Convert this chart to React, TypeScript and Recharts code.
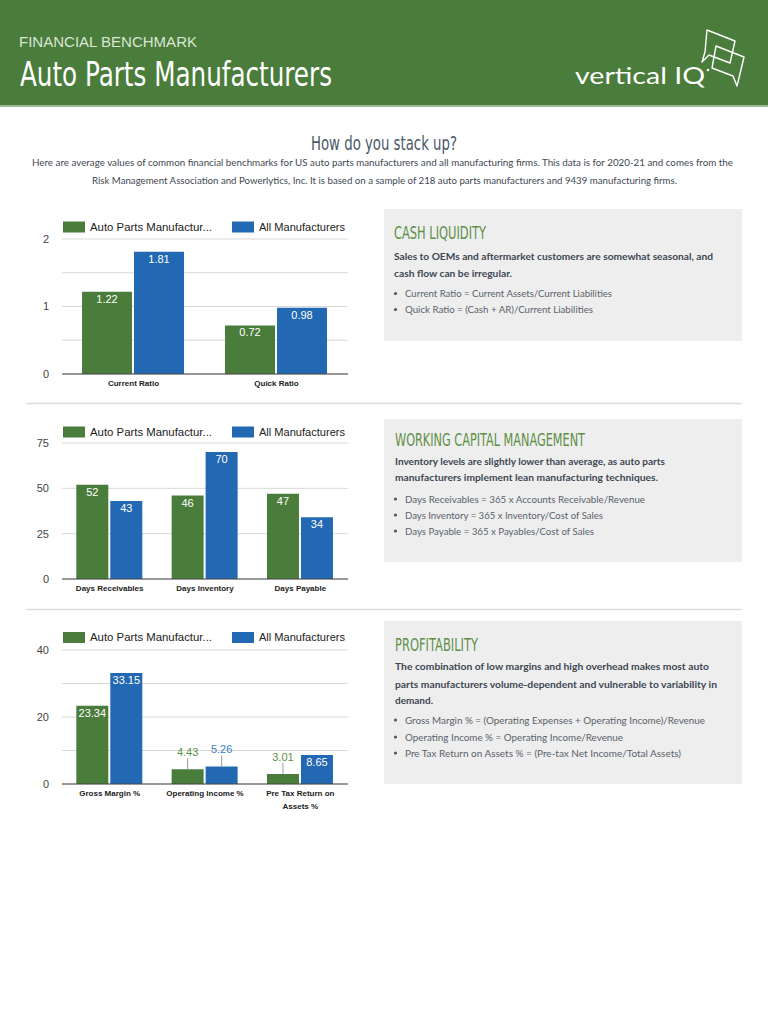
import React from "react";
import { BarChart, Bar, XAxis, YAxis, CartesianGrid, LabelList } from "recharts";

// ---------- data ----------
const seriesNames = ["Auto Parts Manufactur...", "All Manufacturers"];

const liquidityCategories = ["Current Ratio", "Quick Ratio"];
const liquidityAuto = [1.22, 0.72];
const liquidityAll = [1.81, 0.98];
const liquidityGridTicks = [0, 0.5, 1, 1.5, 2];
const liquidityLabelTicks = [0, 1, 2];

const wcCategories = ["Days Receivables", "Days Inventory", "Days Payable"];
const wcAuto = [52, 46, 47];
const wcAll = [43, 70, 34];
const wcGridTicks = [0, 25, 50, 75];
const wcLabelTicks = [0, 25, 50, 75];

const profCategories = ["Gross Margin %", "Operating Income %", "Pre Tax Return on Assets %"];
const profAuto = [23.34, 4.43, 3.01];
const profAll = [33.15, 5.26, 8.65];
const profGridTicks = [0, 10, 20, 30, 40];
const profLabelTicks = [0, 20, 40];

// ---------- styles ----------
const GREEN = "#4a7d3b";
const BLUE = "#2368b2";
const GREEN_OUT = "#5c9146";
const BLUE_OUT = "#3a7ec6";
const NARROW = '"Liberation Sans Narrow", "DejaVu Sans Condensed", Roboto, sans-serif';
const BODY = 'Lato, "Noto Sans", sans-serif';
const ARIAL = '"Liberation Sans", Arial, sans-serif';

type TProps = {
  x: number; y: number; w?: number; size: number; fill: string;
  weight?: number | string; family?: string; anchor?: "start" | "middle" | "end"; children: React.ReactNode;
};
const T = ({ x, y, w, size, fill, weight = 400, family = BODY, anchor = "start", children }: TProps) => (
  <text
    x={x}
    y={y}
    fontSize={size}
    fill={fill}
    fontWeight={weight}
    fontFamily={family}
    textAnchor={anchor}
    textLength={w}
    lengthAdjust={w ? "spacingAndGlyphs" : undefined}
  >
    {children}
  </text>
);

function wrapLabel(text: string, maxChars = 18): string[] {
  if (text.length <= maxChars) return [text];
  const words = text.split(" ");
  const lines: string[] = [];
  let cur = "";
  for (const w of words) {
    const next = cur ? cur + " " + w : w;
    if (next.length > maxChars && cur) {
      lines.push(cur);
      cur = w;
    } else cur = next;
  }
  if (cur) lines.push(cur);
  return lines;
}

const makeLabel = (outColor: string) => (props: any) => {
  const { x, y, width, height, value } = props;
  const cx = Number(x) + Number(width) / 2;
  const top = Number(y);
  if (Number(height) >= 24) {
    return (
      <text x={cx} y={top + 11} fill="#ffffff" fontSize={11} textAnchor="middle" fontFamily={ARIAL}>
        {value}
      </text>
    );
  }
  return (
    <g>
      <line x1={cx} x2={cx} y1={top} y2={top - 11} stroke="#9a9a9a" strokeWidth={1} />
      <text x={cx} y={top - 13} fill={outColor} fontSize={11} textAnchor="middle" fontFamily={ARIAL}>
        {value}
      </text>
    </g>
  );
};

type ChartProps = {
  left: number; top: number; height: number; marginTop: number; xAxisHeight: number;
  categories: string[]; autoValues: number[]; allValues: number[];
  domainMax: number; gridTicks: number[]; labelTicks: number[]; gap: string;
};

function BenchmarkChart(p: ChartProps) {
  const data = p.categories.map((c, i) => ({ name: c, auto: p.autoValues[i], all: p.allValues[i] }));
  const YTick = (props: any) => {
    const { x, y, payload } = props;
    if (!p.labelTicks.includes(payload.value)) return <g />;
    return (
      <text x={x} y={y} dy="0.36em" textAnchor="end" fontSize={11} fill="#444" fontFamily={ARIAL}>
        {payload.value}
      </text>
    );
  };
  const XTick = (props: any) => {
    const { x, y, payload } = props;
    const lines = wrapLabel(String(payload.value));
    return (
      <text x={x} y={y + 4} textAnchor="middle" fontSize={8} fontWeight="bold" fill="#222" fontFamily={ARIAL}>
        {lines.map((l, i) => (
          <tspan key={i} x={x} dy={i === 0 ? 0 : 13}>
            {l}
          </tspan>
        ))}
      </text>
    );
  };
  return (
    <div style={{ position: "absolute", left: p.left, top: p.top }}>
      <BarChart
        width={340}
        height={p.height}
        data={data}
        margin={{ top: p.marginTop, right: 12, bottom: 6, left: 0 }}
        barCategoryGap={p.gap}
        barGap={2}
      >
        <CartesianGrid vertical={false} stroke="#d9d9d9" />
        <XAxis
          dataKey="name"
          tickLine={false}
          axisLine={{ stroke: "#444" }}
          height={p.xAxisHeight}
          tick={<XTick />}
          interval={0}
        />
        <YAxis
          width={42}
          domain={[0, p.domainMax]}
          ticks={p.gridTicks}
          tickLine={false}
          axisLine={false}
          tickMargin={7}
          tick={<YTick />}
          interval={0}
        />
        <Bar dataKey="auto" fill={GREEN} isAnimationActive={false}>
          <LabelList dataKey="auto" content={makeLabel(GREEN_OUT)} />
        </Bar>
        <Bar dataKey="all" fill={BLUE} isAnimationActive={false}>
          <LabelList dataKey="all" content={makeLabel(BLUE_OUT)} />
        </Bar>
      </BarChart>
    </div>
  );
}

const Legend = ({ cy }: { cy: number }) => (
  <g>
    <rect x={63} y={cy - 5} width={22} height={11} fill={GREEN} />
    <T x={90} y={cy + 4} w={122} size={11} fill="#222" family={ARIAL}>{seriesNames[0]}</T>
    <rect x={232} y={cy - 5} width={22} height={11} fill={BLUE} />
    <T x={259} y={cy + 4} w={86} size={11} fill="#222" family={ARIAL}>{seriesNames[1]}</T>
  </g>
);

const HEAD = "#5d8f47";
const BOLD = "#3d4753";
const BUL = "#59626b";

const Bullet = ({ y, w, children }: { y: number; w: number; children: React.ReactNode }) => (
  <g>
    <circle cx={395.5} cy={y - 3.5} r={1.6} fill="#555" />
    <T x={405} y={y} w={w} size={9.5} fill={BUL}>{children}</T>
  </g>
);

export default function App() {
  return (
    <div style={{ position: "absolute", left: 0, top: 0, width: 768, height: 1024, background: "#fff", overflow: "hidden" }}>
      <svg width={768} height={1024} style={{ position: "absolute", left: 0, top: 0 }}>
        {/* header */}
        <rect x={0} y={0} width={768} height={106} fill="#4a7c3b" />
        <rect x={0} y={105} width={768} height={2} fill="#a3b89a" />
        <T x={19} y={47} w={178} size={14} fill="#dbe5d5" family={ARIAL}>FINANCIAL BENCHMARK</T>
        <T x={20} y={86} w={312} size={34} fill="#ffffff" family={NARROW}>Auto Parts Manufacturers</T>
        <T x={575} y={84} w={130} size={23} fill="#ffffff" family={BODY}>vertical IQ</T>
        <circle cx={708} cy={70} r={1.3} fill="#fff" />
        <g fill="none" stroke="#ffffff" strokeWidth={1.4} strokeLinejoin="round">
          <path d="M707,30 L735,41 L730,63 L709,55 L702,62 L705,52 Z" />
          <path d="M716,46 L744,57 L739,78 L737,86 L733,76 L712,68 Z" />
        </g>

        {/* intro */}
        <T x={384} y={150} w={146} size={20} fill="#4b5968" family={NARROW} anchor="middle">How do you stack up?</T>
        <T x={382.5} y={165.5} w={701} size={10} fill="#3e4852" anchor="middle">
          Here are average values of common financial benchmarks for US auto parts manufacturers and all manufacturing firms. This data is for 2020-21 and comes from the
        </T>
        <T x={384.5} y={183.5} w={585} size={10} fill="#3e4852" anchor="middle">
          Risk Management Association and Powerlytics, Inc. It is based on a sample of 218 auto parts manufacturers and 9439 manufacturing firms.
        </T>

        {/* separators */}
        <line x1={26} x2={742} y1={403.5} y2={403.5} stroke="#dddddd" strokeWidth={1.5} />
        <line x1={26} x2={742} y1={609.5} y2={609.5} stroke="#dddddd" strokeWidth={1.5} />

        {/* legends */}
        <Legend cy={226.5} />
        <Legend cy={431.5} />
        <Legend cy={637} />

        {/* panel 1 */}
        <rect x={384} y={209} width={358} height={132} fill="#eeeeee" />
        <T x={394} y={238.5} w={92} size={18} fill={HEAD} family={NARROW}>CASH LIQUIDITY</T>
        <T x={394} y={260} w={319} size={10} fill={BOLD} weight={700}>Sales to OEMs and aftermarket customers are somewhat seasonal, and</T>
        <T x={394} y={277} w={118} size={10} fill={BOLD} weight={700}>cash flow can be irregular.</T>
        <Bullet y={297} w={207}>Current Ratio = Current Assets/Current Liabilities</Bullet>
        <Bullet y={313} w={188}>Quick Ratio = (Cash + AR)/Current Liabilities</Bullet>

        {/* panel 2 */}
        <rect x={384} y={419} width={358} height={143} fill="#eeeeee" />
        <T x={395} y={445.5} w={190} size={18} fill={HEAD} family={NARROW}>WORKING CAPITAL MANAGEMENT</T>
        <T x={395} y={465} w={270} size={10} fill={BOLD} weight={700}>Inventory levels are slightly lower than average, as auto parts</T>
        <T x={395} y={481} w={263} size={10} fill={BOLD} weight={700}>manufacturers implement lean manufacturing techniques.</T>
        <Bullet y={502.5} w={240}>Days Receivables = 365 x Accounts Receivable/Revenue</Bullet>
        <Bullet y={518.5} w={198}>Days Inventory = 365 x Inventory/Cost of Sales</Bullet>
        <Bullet y={534.5} w={189}>Days Payable = 365 x Payables/Cost of Sales</Bullet>

        {/* panel 3 */}
        <rect x={384} y={621} width={358} height={163} fill="#eeeeee" />
        <T x={395} y={650.5} w={83} size={18} fill={HEAD} family={NARROW}>PROFITABILITY</T>
        <T x={395} y={670} w={314} size={10} fill={BOLD} weight={700}>The combination of low margins and high overhead makes most auto</T>
        <T x={395} y={688} w={322} size={10} fill={BOLD} weight={700}>parts manufacturers volume-dependent and vulnerable to variability in</T>
        <T x={395} y={704} w={38} size={10} fill={BOLD} weight={700}>demand.</T>
        <Bullet y={723.5} w={300}>Gross Margin % = (Operating Expenses + Operating Income)/Revenue</Bullet>
        <Bullet y={740.5} w={218}>Operating Income % = Operating Income/Revenue</Bullet>
        <Bullet y={756.5} w={276}>Pre Tax Return on Assets % = (Pre-tax Net Income/Total Assets)</Bullet>
      </svg>

      <BenchmarkChart
        left={20} top={210} height={190} marginTop={29} xAxisHeight={20}
        categories={liquidityCategories} autoValues={liquidityAuto} allValues={liquidityAll}
        domainMax={2} gridTicks={liquidityGridTicks} labelTicks={liquidityLabelTicks} gap="14%"
      />
      <BenchmarkChart
        left={20} top={415} height={190} marginTop={28} xAxisHeight={20}
        categories={wcCategories} autoValues={wcAuto} allValues={wcAll}
        domainMax={75} gridTicks={wcGridTicks} labelTicks={wcLabelTicks} gap="15%"
      />
      <BenchmarkChart
        left={20} top={620} height={200} marginTop={30} xAxisHeight={30}
        categories={profCategories} autoValues={profAuto} allValues={profAll}
        domainMax={40} gridTicks={profGridTicks} labelTicks={profLabelTicks} gap="15%"
      />
    </div>
  );
}
